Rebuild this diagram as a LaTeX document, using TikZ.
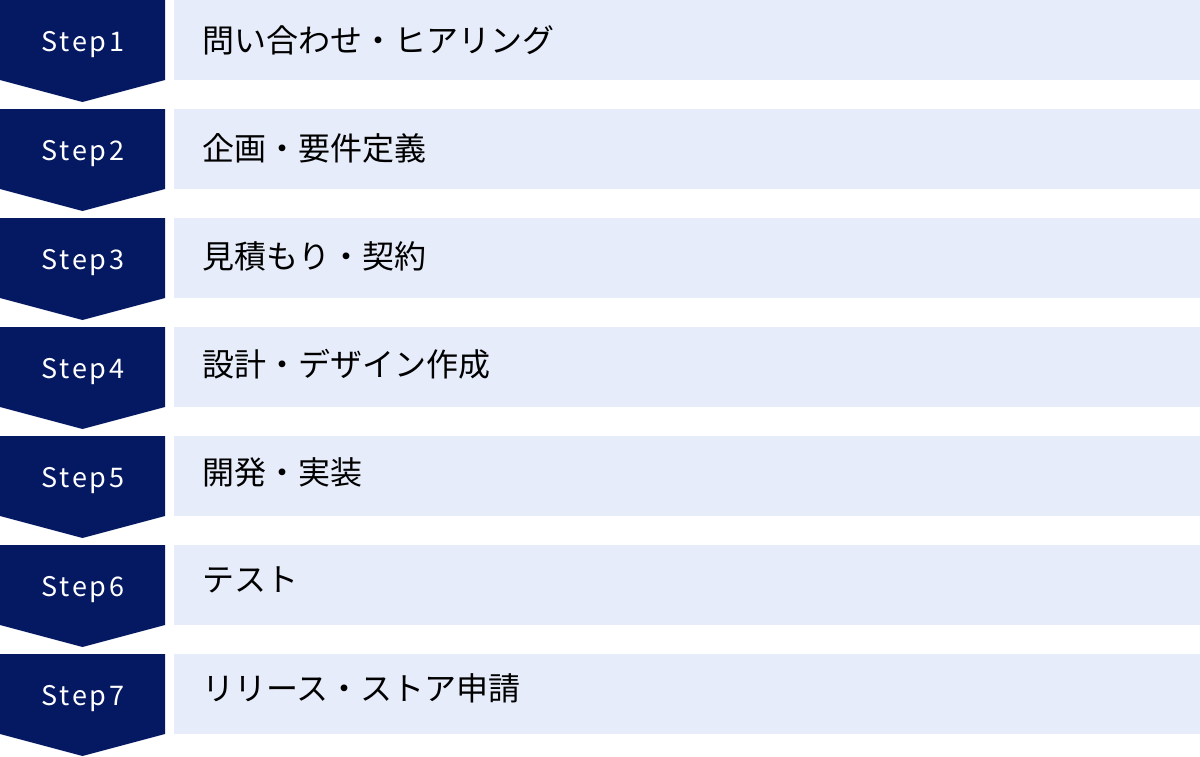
\documentclass[tikz,border=0pt]{standalone}
\usepackage{fontspec}
\newfontfamily\jpfont{Noto Sans CJK JP}
\newfontfamily\stepfont[LetterSpace=10]{Noto Sans CJK JP}
\definecolor{navy}{RGB}{5,25,98}
\definecolor{paleblue}{RGB}{230,236,249}
\tikzset{
  steplabel/.style={anchor=base west,text=white,inner sep=0,font=\stepfont\fontsize{27}{30}\selectfont},
  tasklabel/.style={anchor=west,inner sep=0,font=\jpfont\fontsize{32}{36}\selectfont}
}
\begin{document}
\begin{tikzpicture}[x=1pt,y=-1pt]
\useasboundingbox (0,0) rectangle (1200,756);

\fill [navy] (0,0) -- (165,0) -- (165,80) -- (82.5,102) -- (0,80) -- cycle;
\fill [navy] (0,109) -- (165,109) -- (165,189) -- (82.5,211) -- (0,189) -- cycle;
\fill [navy] (0,218) -- (165,218) -- (165,298) -- (82.5,320) -- (0,298) -- cycle;
\fill [navy] (0,327) -- (165,327) -- (165,407) -- (82.5,429) -- (0,407) -- cycle;
\fill [navy] (0,436) -- (165,436) -- (165,516) -- (82.5,538) -- (0,516) -- cycle;
\fill [navy] (0,545) -- (165,545) -- (165,625) -- (82.5,647) -- (0,625) -- cycle;
\fill [navy] (0,654) -- (165,654) -- (165,734) -- (82.5,756) -- (0,734) -- cycle;

\fill [paleblue] (174,0) rectangle (1200,80);
\fill [paleblue] (174,109) rectangle (1200,189);
\fill [paleblue] (174,218) rectangle (1200,298);
\fill [paleblue] (174,327) rectangle (1200,407);
\fill [paleblue] (174,436) rectangle (1200,516);
\fill [paleblue] (174,545) rectangle (1200,625);
\fill [paleblue] (174,654) rectangle (1200,734);

\node [steplabel] (step1) at (41.4,51.3) {Step1};
\node [steplabel] (step2) at (41.4,160.3) {Step2};
\node [steplabel] (step3) at (41.4,269.3) {Step3};
\node [steplabel] (step4) at (41.4,378.3) {Step4};
\node [steplabel] (step5) at (41.4,487.3) {Step5};
\node [steplabel] (step6) at (41.4,596.3) {Step6};
\node [steplabel] (step7) at (41.4,705.3) {Step7};

\node [tasklabel] (task1) at (202,40) {問い合わせ・ヒアリング};
\node [tasklabel] (task2) at (202,148) {企画・要件定義};
\node [tasklabel] (task3) at (202,256) {見積もり・契約};
\node [tasklabel] (task4) at (202,364) {設計・デザイン作成};
\node [tasklabel] (task5) at (202,472) {開発・実装};
\node [tasklabel] (task6) at (202,580) {テスト};
\node [tasklabel] (task7) at (202,688) {リリース・ストア申請};
\end{tikzpicture}
\end{document}
